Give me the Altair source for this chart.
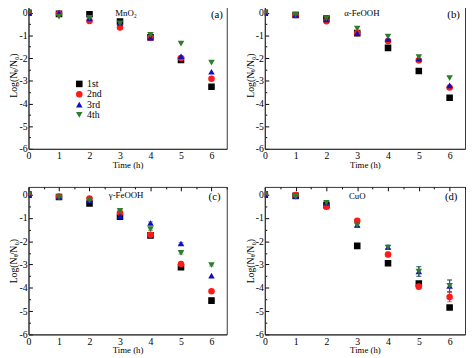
import altair as alt
import pandas as pd

times = [0, 1, 2, 3, 4, 5, 6]
runs = ["1st", "2nd", "3rd", "4th"]
colors = ["#000000", "#ff1a1a", "#1010c0", "#2e7d2e"]
shapes = ["square", "circle", "triangle-up", "triangle-down"]

mno2_1st = [0, -0.05, -0.07, -0.39, -1.08, -2.08, -3.26]
mno2_2nd = [0, -0.05, -0.36, -0.65, -1.10, -2.00, -2.91]
mno2_3rd = [0, 0.00, -0.25, -0.45, -1.10, -1.92, -2.60]
mno2_4th = [0, -0.17, -0.22, -0.47, -0.98, -1.36, -2.20]

afe_1st = [0, -0.10, -0.25, -0.90, -1.55, -2.57, -3.75]
afe_2nd = [0, -0.10, -0.38, -0.90, -1.25, -2.10, -3.30]
afe_3rd = [0, -0.10, -0.30, -0.90, -1.15, -2.02, -3.20]
afe_4th = [0, -0.08, -0.25, -0.70, -1.05, -1.95, -2.88]

gfe_1st = [0, -0.10, -0.38, -0.95, -1.75, -3.12, -4.55]
gfe_2nd = [0, -0.08, -0.17, -0.78, -1.72, -2.98, -4.15]
gfe_3rd = [0, -0.10, -0.25, -0.92, -1.22, -2.10, -3.48]
gfe_4th = [0, -0.12, -0.25, -0.70, -1.48, -2.50, -3.02]

cuo_1st = [0, -0.05, -0.45, -2.20, -2.95, -3.82, -4.85]
cuo_2nd = [0, -0.02, -0.52, -1.12, -2.57, -3.95, -4.40]
cuo_3rd = [0, -0.08, -0.35, -1.30, -2.25, -3.30, -3.92]
cuo_4th = [0, -0.10, -0.35, -1.32, -2.27, -3.30, -3.92]

# visible error bars (half-widths); zero where hidden under the marker
gfe_err = [[0, 0, 0, 0, 0.05, 0.05, 0.10], [0, 0, 0, 0, 0, 0.05, 0.05],
           [0, 0, 0, 0, 0.05, 0.05, 0], [0, 0, 0, 0, 0.05, 0.05, 0.05]]
cuo_err = [[0, 0, 0, 0.05, 0, 0.05, 0.05], [0, 0, 0.10, 0.08, 0.10, 0.08, 0.20],
           [0, 0, 0.05, 0.08, 0.08, 0.20, 0.25], [0, 0, 0.05, 0.08, 0.08, 0.22, 0.25]]
no_err = [[0] * 7] * 4

x_ticks = [0, 0.5, 1, 1.5, 2, 2.5, 3, 3.5, 4, 4.5, 5, 5.5, 6, 6.5]
y_ticks = [-6, -5.5, -5, -4.5, -4, -3.5, -3, -2.5, -2, -1.5, -1, -0.5, 0]

FONT = "Liberation Serif"
LABEL_EXPR = "datum.value % 1 == 0 ? '' + datum.value : ''"
DASH = {"condition": {"test": "datum.value % 1 == 0", "value": [4, 1000]}, "value": [2, 1000]}


def panel(series, errs, name, tag, ymax, name_xy, tag_xy, width):
    rows = []
    for run, vals, ers in zip(runs, series, errs):
        for t, v, e in zip(times, vals, ers):
            rows.append({"t": t, "v": v, "run": run, "lo": v - e, "hi": v + e, "e": e})
    df = pd.DataFrame(rows)
    edf = df[df["e"] > 0]
    xs = alt.Scale(domain=[0, 6.5], nice=False, zero=False)
    ys = alt.Scale(domain=[-6, ymax], nice=False, zero=False)
    xaxis = alt.Axis(values=x_ticks, labelExpr=LABEL_EXPR, title="Time (h)", ticks=False,
                     grid=True, gridColor="#000", gridOpacity=1, gridDash=DASH,
                     labelFlush=False, labelPadding=2, titlePadding=0, titleFontSize=9)
    yaxis = alt.Axis(values=y_ticks, labelExpr=LABEL_EXPR, title="Log(Nₜ/N₀)", ticks=False,
                     grid=True, gridColor="#000", gridOpacity=1, gridDash=DASH,
                     labelFlush=False, labelPadding=1.5, titlePadding=0, titleFontSize=10)
    legend = alt.Legend(orient="none", legendX=47, legendY=79.5, title=None,
                        labelFont=FONT, labelFontSize=10, symbolSize=45,
                        symbolStrokeWidth=0, rowPadding=0.6, padding=0, labelOffset=3)
    cscale = alt.Scale(domain=runs, range=colors)
    sscale = alt.Scale(domain=runs, range=shapes)
    X = alt.X("t:Q", scale=xs, axis=xaxis)
    layers = []
    if len(edf):
        bars = alt.Chart(edf).mark_rule(strokeWidth=1, clip=True).encode(
            x=X, y=alt.Y("lo:Q", scale=ys, axis=yaxis), y2="hi:Q",
            color=alt.Color("run:N", scale=cscale, legend=legend),
        )
        cap_hi = alt.Chart(edf).mark_tick(orient="horizontal", size=5, thickness=1, clip=True).encode(
            x=X, y=alt.Y("hi:Q", scale=ys, axis=yaxis),
            color=alt.Color("run:N", scale=cscale, legend=legend),
        )
        cap_lo = alt.Chart(edf).mark_tick(orient="horizontal", size=5, thickness=1, clip=True).encode(
            x=X, y=alt.Y("lo:Q", scale=ys, axis=yaxis),
            color=alt.Color("run:N", scale=cscale, legend=legend),
        )
        layers += [bars, cap_hi, cap_lo]
    pts = alt.Chart(df).mark_point(filled=True, size=45, opacity=1, clip=True).encode(
        x=X,
        y=alt.Y("v:Q", scale=ys, axis=yaxis),
        color=alt.Color("run:N", scale=cscale, legend=legend),
        shape=alt.Shape("run:N", scale=sscale, legend=legend),
        order=alt.Order("run:N"),
    )
    layers.append(pts)
    ann = pd.DataFrame({
        "x": [name_xy[0], tag_xy[0]],
        "y": [name_xy[1], tag_xy[1]],
        "label": [name, tag],
        "size": [9, 11],
    })
    txt = alt.Chart(ann).mark_text(font=FONT, color="#000").encode(
        x=alt.X("x:Q", scale=xs, axis=xaxis),
        y=alt.Y("y:Q", scale=ys, axis=yaxis),
        text="label:N",
        size=alt.Size("size:Q", scale=None, legend=None),
    )
    layers.append(txt)
    return alt.layer(*layers).properties(width=width, height=151)


a = panel([mno2_1st, mno2_2nd, mno2_3rd, mno2_4th], no_err, "MnO₂", "(a)", 0.5, (3.2, -0.03), (6.18, -0.1), 203)
b = panel([afe_1st, afe_2nd, afe_3rd, afe_4th], no_err, "α-FeOOH", "(b)", 0.5, (3.15, -0.03), (6.13, -0.1), 205)
c = panel([gfe_1st, gfe_2nd, gfe_3rd, gfe_4th], gfe_err, "γ-FeOOH", "(c)", 0.33, (3.2, 0.0), (6.1, -0.1), 203)
d = panel([cuo_1st, cuo_2nd, cuo_3rd, cuo_4th], cuo_err, "CuO", "(d)", 0.33, (3.0, -0.05), (6.05, -0.1), 205)

chart = alt.vconcat(
    alt.hconcat(a, b, spacing=17),
    alt.hconcat(c, d, spacing=17),
    spacing=16,
).properties(
    padding={"left": 0, "top": -12, "right": 0, "bottom": 0},
    background="white",
).configure_view(
    stroke="#333", strokeWidth=1
).configure_axis(
    labelFont=FONT, labelFontSize=10, labelColor="#000",
    titleFont=FONT, titleFontWeight="normal", titleColor="#000",
    domainColor="#333", domainWidth=1,
)

chart.save("out.html", embed_options={"renderer": "svg", "actions": False})
